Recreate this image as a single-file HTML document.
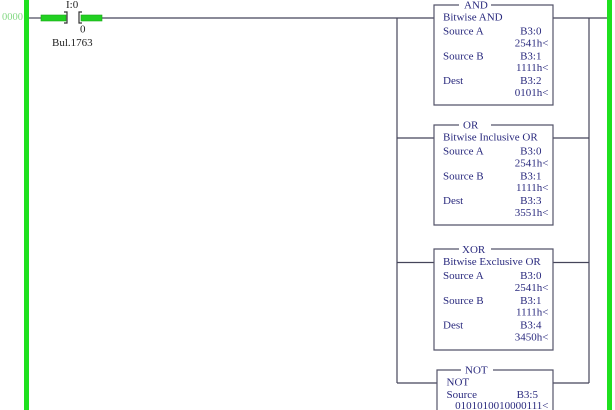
<!DOCTYPE html>
<html><head><meta charset="utf-8"><style>
html,body{margin:0;padding:0;background:#fff;}
svg{display:block;}
text{font-family:"Liberation Serif",serif;font-size:11px;}
.t{fill:#2a2a7e;}
.r{text-anchor:end;}
</style></head><body>
<svg width="615" height="410" viewBox="0 0 615 410" xmlns="http://www.w3.org/2000/svg">
<rect x="0" y="0" width="615" height="410" fill="#fff"/>
<!-- rails -->
<rect x="24" y="0" width="5" height="410" fill="#1fe01f"/>
<rect x="607" y="0" width="5" height="410" fill="#1fe01f"/>
<!-- rung number -->
<text x="2" y="20" style="font-size:10.5px" fill="#86d986">0000</text>
<!-- main rung line -->
<g stroke="#45455a" stroke-width="1.2" fill="none">
<line x1="29" y1="18" x2="41" y2="18"/>
<line x1="102" y1="18" x2="434" y2="18"/>
<line x1="553" y1="18" x2="607" y2="18"/>
<!-- branch verticals -->
<line x1="397" y1="18" x2="397" y2="383"/>
<line x1="589" y1="18" x2="589" y2="383"/>
<!-- branch horizontals -->
<line x1="397" y1="138" x2="434" y2="138"/>
<line x1="553" y1="138" x2="589" y2="138"/>
<line x1="397" y1="262.5" x2="434" y2="262.5"/>
<line x1="553" y1="262.5" x2="589" y2="262.5"/>
<line x1="397" y1="383" x2="437" y2="383"/>
<line x1="553" y1="383" x2="589" y2="383"/>
</g>
<!-- contact -->
<rect x="41" y="15" width="25" height="6" fill="#22d022" stroke="#18a818" stroke-width="0.6"/>
<rect x="81" y="15" width="21" height="6" fill="#22d022" stroke="#18a818" stroke-width="0.6"/>
<path d="M64 12 H67 V23 H64" fill="none" stroke="#333" stroke-width="1.2"/>
<path d="M82 12 H79 V23 H82" fill="none" stroke="#333" stroke-width="1.2"/>
<text x="66" y="8" fill="#222">I:0</text>
<text x="80" y="32.5" fill="#222">0</text>
<text x="52" y="46" fill="#222">Bul.1763</text>

<!-- AND box -->
<g stroke="#55556a" stroke-width="1.2" fill="none">
<path d="M459 5 H434 V105 H553 V5 H491"/>
<path d="M459 125 H434 V225 H553 V125 H491"/>
<path d="M459 249 H434 V350 H553 V249 H491"/>
<path d="M461 370 H437 V412 M553 412 V370 H493"/>
</g>

<g class="t">
<text x="464" y="8.5">AND</text>
<text x="443" y="20.7">Bitwise AND</text>
<text x="443" y="34.3">Source A</text>
<text class="r" x="541.5" y="34.3">B3:0</text>
<text class="r" x="548.5" y="46.7">2541h&lt;</text>
<text x="443" y="59.3">Source B</text>
<text class="r" x="541.5" y="59.3">B3:1</text>
<text class="r" x="548.5" y="71">1111h&lt;</text>
<text x="443" y="84">Dest</text>
<text class="r" x="541.5" y="84">B3:2</text>
<text class="r" x="548.5" y="96">0101h&lt;</text>
</g>

<g class="t" transform="translate(0,120)">
<text x="463" y="8.5">OR</text>
<text x="443" y="20.7">Bitwise Inclusive OR</text>
<text x="443" y="34.3">Source A</text>
<text class="r" x="541.5" y="34.3">B3:0</text>
<text class="r" x="548.5" y="46.7">2541h&lt;</text>
<text x="443" y="59.3">Source B</text>
<text class="r" x="541.5" y="59.3">B3:1</text>
<text class="r" x="548.5" y="71">1111h&lt;</text>
<text x="443" y="84">Dest</text>
<text class="r" x="541.5" y="84">B3:3</text>
<text class="r" x="548.5" y="96">3551h&lt;</text>
</g>

<g class="t" transform="translate(0,244.5)">
<text x="462" y="8.5">XOR</text>
<text x="443" y="20.7">Bitwise Exclusive OR</text>
<text x="443" y="34.3">Source A</text>
<text class="r" x="541.5" y="34.3">B3:0</text>
<text class="r" x="548.5" y="46.7">2541h&lt;</text>
<text x="443" y="59.3">Source B</text>
<text class="r" x="541.5" y="59.3">B3:1</text>
<text class="r" x="548.5" y="71">1111h&lt;</text>
<text x="443" y="84">Dest</text>
<text class="r" x="541.5" y="84">B3:4</text>
<text class="r" x="548.5" y="96">3450h&lt;</text>
</g>

<g class="t" transform="translate(0,365)">
<text x="465" y="8.5">NOT</text>
<text x="446.5" y="20.5">NOT</text>
<text x="446.5" y="33">Source</text>
<text class="r" x="538" y="33">B3:5</text>
<text class="r" x="548.5" y="44">0101010010000111&lt;</text>
</g>
</svg>
</body></html>
